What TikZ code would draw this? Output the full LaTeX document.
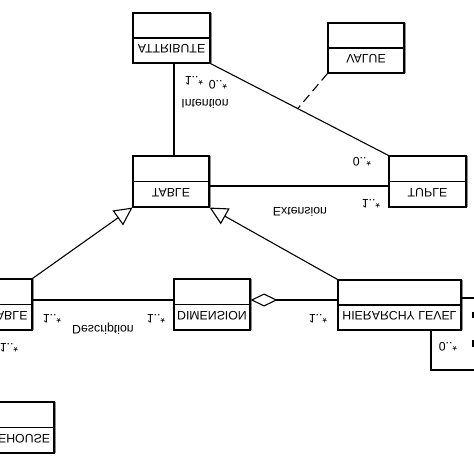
\documentclass[tikz,border=0pt]{standalone}
\usepackage{fontspec}
\setmainfont{Liberation Sans}
\usepackage{graphicx}
\usetikzlibrary{arrows.meta,shadows,calc}
\newcommand{\fl}[1]{\scalebox{1}[-1]{#1}}
\begin{document}
\begin{tikzpicture}[x=1pt,y=-1pt, font=\fontsize{12.3}{14}\selectfont,
  cls/.style={draw,line width=1.1pt,fill=white,inner sep=0pt,minimum height=50pt,
    drop shadow={shadow xshift=1.6pt,shadow yshift=0pt,fill=black!45,opacity=1}},
  nm/.style={inner sep=0pt},
  lab/.style={inner sep=0pt},
  ln/.style={line width=1.1pt},
  inh/.style={ln,-{Triangle[open,length=18pt,width=18pt]}},
  agg/.style={ln,{Diamond[open,length=27pt,width=13pt]}-}]
\useasboundingbox (0,0) rectangle (474,474);
\clip (0,0) rectangle (474,474);

% classes
\node[cls,minimum width=77pt] (attr) at (171.5,38) {};
\node[cls,minimum width=76pt] (value) at (366,48) {};
\node[cls,minimum width=76pt,minimum height=51pt] (table) at (171,181.5) {};
\node[cls,minimum width=77pt,minimum height=51pt] (tuple) at (427.5,181.5) {};
\node[cls,minimum width=82pt,minimum height=51pt] (fact) at (-9,304.5) {};
\node[cls,minimum width=76pt,minimum height=51pt] (dim) at (212,304.5) {};
\node[cls,minimum width=123pt] (hier) at (399.5,305) {};
\node[cls,minimum width=88pt,minimum height=51pt] (ware) at (10,427.5) {};

\foreach \c in {attr,value,table,tuple,fact,dim,hier,ware}
  \draw[ln] (\c.west) -- (\c.east);

\node[nm] (attr-n) at (171.5,48.5) {\fl{ATTRIBUTE}};
\node[nm] (value-n) at (366,59) {\fl{VALUE}};
\node[nm] (table-n) at (171,192.5) {\fl{TABLE}};
\node[nm] (tuple-n) at (427.5,192.5) {\fl{TUPLE}};
\node[nm] (fact-n) at (-9,316) {\fl{FACT TABLE}};
\node[nm] (dim-n) at (212,316) {\fl{DIMENSION}};
\node[nm] (hier-n) at (399.5,316) {\fl{HIERARCHY LEVEL}};
\node[nm] (ware-n) at (10,439) {\fl{WAREHOUSE}};

% connectors
\draw[ln] (attr.south -| 174,0) -- (table.north -| 174,0);
\draw[ln] (attr.south east) -- coordinate[pos=0.49] (vj) (tuple.north west);
\draw[ln,dash pattern=on 9pt off 5pt] (value.south west) -- (vj);
\draw[ln] (table.east |- 0,186) -- (tuple.west |- 0,186);
\draw[inh] (fact.north east) -- (table.south west);
\draw[inh] (hier.north west) -- (table.south east);
\draw[ln] (fact.east |- 0,300) -- (dim.west |- 0,300);
\draw[agg] (dim.east |- 0,300) -- (hier.west |- 0,300);
\coordinate (r1) at (480,298);
\coordinate (r2) at (431,370);
\coordinate (r3) at (480,370);
\draw[ln] (hier.east |- r1) -- (r1);
\draw[ln] (hier.south -| r2) -- (r2) -- (r3);

% multiplicities and role names
\node[lab] (m1) at (194,81) {\fl{1..*}};
\node[lab] (m2) at (218,85) {\fl{0..*}};
\node[lab] (intn) at (205,104) {\fl{Intention}};
\node[lab] (m3) at (362,162) {\fl{0..*}};
\node[lab] (m4) at (371,204) {\fl{1..*}};
\node[lab] (extn) at (300,212) {\fl{Extension}};
\node[lab] (m5) at (52,319) {\fl{1..*}};
\node[lab] (m6) at (156,319) {\fl{1..*}};
\node[lab] (desc) at (103,329) {\fl{Description}};
\node[lab] (m7) at (9,348) {\fl{1..*}};
\node[lab] (m8) at (318,319) {\fl{1..*}};
\node[lab] (m9) at (448,347) {\fl{0..*}};

\fill (471.5,312) rectangle (474,318);
\fill (471.5,340) rectangle (474,347);
\end{tikzpicture}
\end{document}
